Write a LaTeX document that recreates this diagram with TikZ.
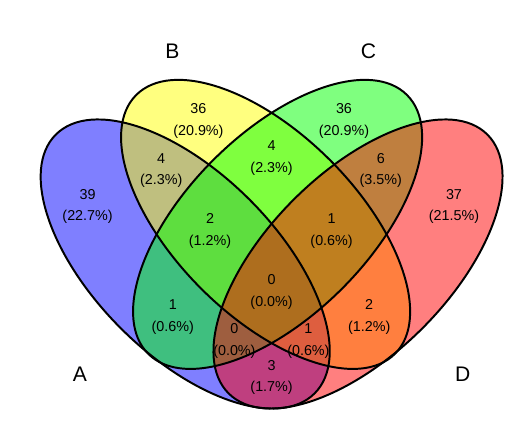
\documentclass[tikz,border=0pt]{standalone}
\usepackage{fontspec}
\setmainfont{Liberation Sans}
\usepackage{xcolor}
\usepackage{tikz}
\definecolor{vnA}{HTML}{0000FF}
\definecolor{vnB}{HTML}{FFFF00}
\definecolor{vnC}{HTML}{00FF00}
\definecolor{vnD}{HTML}{FF0000}
\tikzset{
  vn diagram/.style={font=\fontsize{10.2}{15.4}\selectfont, text=black},
  vn fill/.style={fill=#1, fill opacity=0.5, draw=none},
  vn edge/.style={draw=black, line width=1.4pt},
  vn count/.style={align=center, inner sep=0pt},
  vn name/.style={font=\fontsize{15}{18}\selectfont, inner sep=0pt}
}

\begin{document}
\begin{tikzpicture}[vn diagram]
\useasboundingbox (0,0) rectangle (12.75,10.95);
% the four sets, filled first, outlined afterwards
\coordinate (cA) at (4.63,4.35);
\coordinate (cB) at (6.64,5.34);
\coordinate (cC) at (6.94,5.34);
\coordinate (cD) at (8.95,4.35);
\fill[vn fill=vnA, rotate around={-45:(cA)}] (cA) ellipse [x radius=4.575, y radius=2.275];
\fill[vn fill=vnB, rotate around={-45:(cB)}] (cB) ellipse [x radius=4.575, y radius=2.275];
\fill[vn fill=vnC, rotate around={45:(cC)}] (cC) ellipse [x radius=4.575, y radius=2.275];
\fill[vn fill=vnD, rotate around={45:(cD)}] (cD) ellipse [x radius=4.575, y radius=2.275];
\draw[vn edge, rotate around={-45:(cA)}] (cA) ellipse [x radius=4.575, y radius=2.275];
\draw[vn edge, rotate around={-45:(cB)}] (cB) ellipse [x radius=4.575, y radius=2.275];
\draw[vn edge, rotate around={45:(cC)}] (cC) ellipse [x radius=4.575, y radius=2.275];
\draw[vn edge, rotate around={45:(cD)}] (cD) ellipse [x radius=4.575, y radius=2.275];
% region counts
\node[vn count] (nA) at (2.19,5.79) {39\\(22.7\%)};
\node[vn count] (nB) at (4.96,7.92) {36\\(20.9\%)};
\node[vn count] (nC) at (8.60,7.92) {36\\(20.9\%)};
\node[vn count] (nD) at (11.35,5.79) {37\\(21.5\%)};
\node[vn count] (nAB) at (4.03,6.69) {4\\(2.3\%)};
\node[vn count] (nBC) at (6.79,7.00) {4\\(2.3\%)};
\node[vn count] (nCD) at (9.52,6.69) {6\\(3.5\%)};
\node[vn count] (nABC) at (5.25,5.18) {2\\(1.2\%)};
\node[vn count] (nBCD) at (8.29,5.18) {1\\(0.6\%)};
\node[vn count] (nABCD) at (6.79,3.65) {0\\(0.0\%)};
\node[vn count] (nAC) at (4.32,3.03) {1\\(0.6\%)};
\node[vn count] (nBD) at (9.23,3.03) {2\\(1.2\%)};
\node[vn count] (nACD) at (5.86,2.43) {0\\(0.0\%)};
\node[vn count] (nABD) at (7.71,2.43) {1\\(0.6\%)};
\node[vn count] (nAD) at (6.79,1.51) {3\\(1.7\%)};
% set names
\node[vn name] (labA) at (2.00,1.60) {A};
\node[vn name] (labB) at (4.31,9.68) {B};
\node[vn name] (labC) at (9.21,9.68) {C};
\node[vn name] (labD) at (11.57,1.60) {D};
\end{tikzpicture}
\end{document}
